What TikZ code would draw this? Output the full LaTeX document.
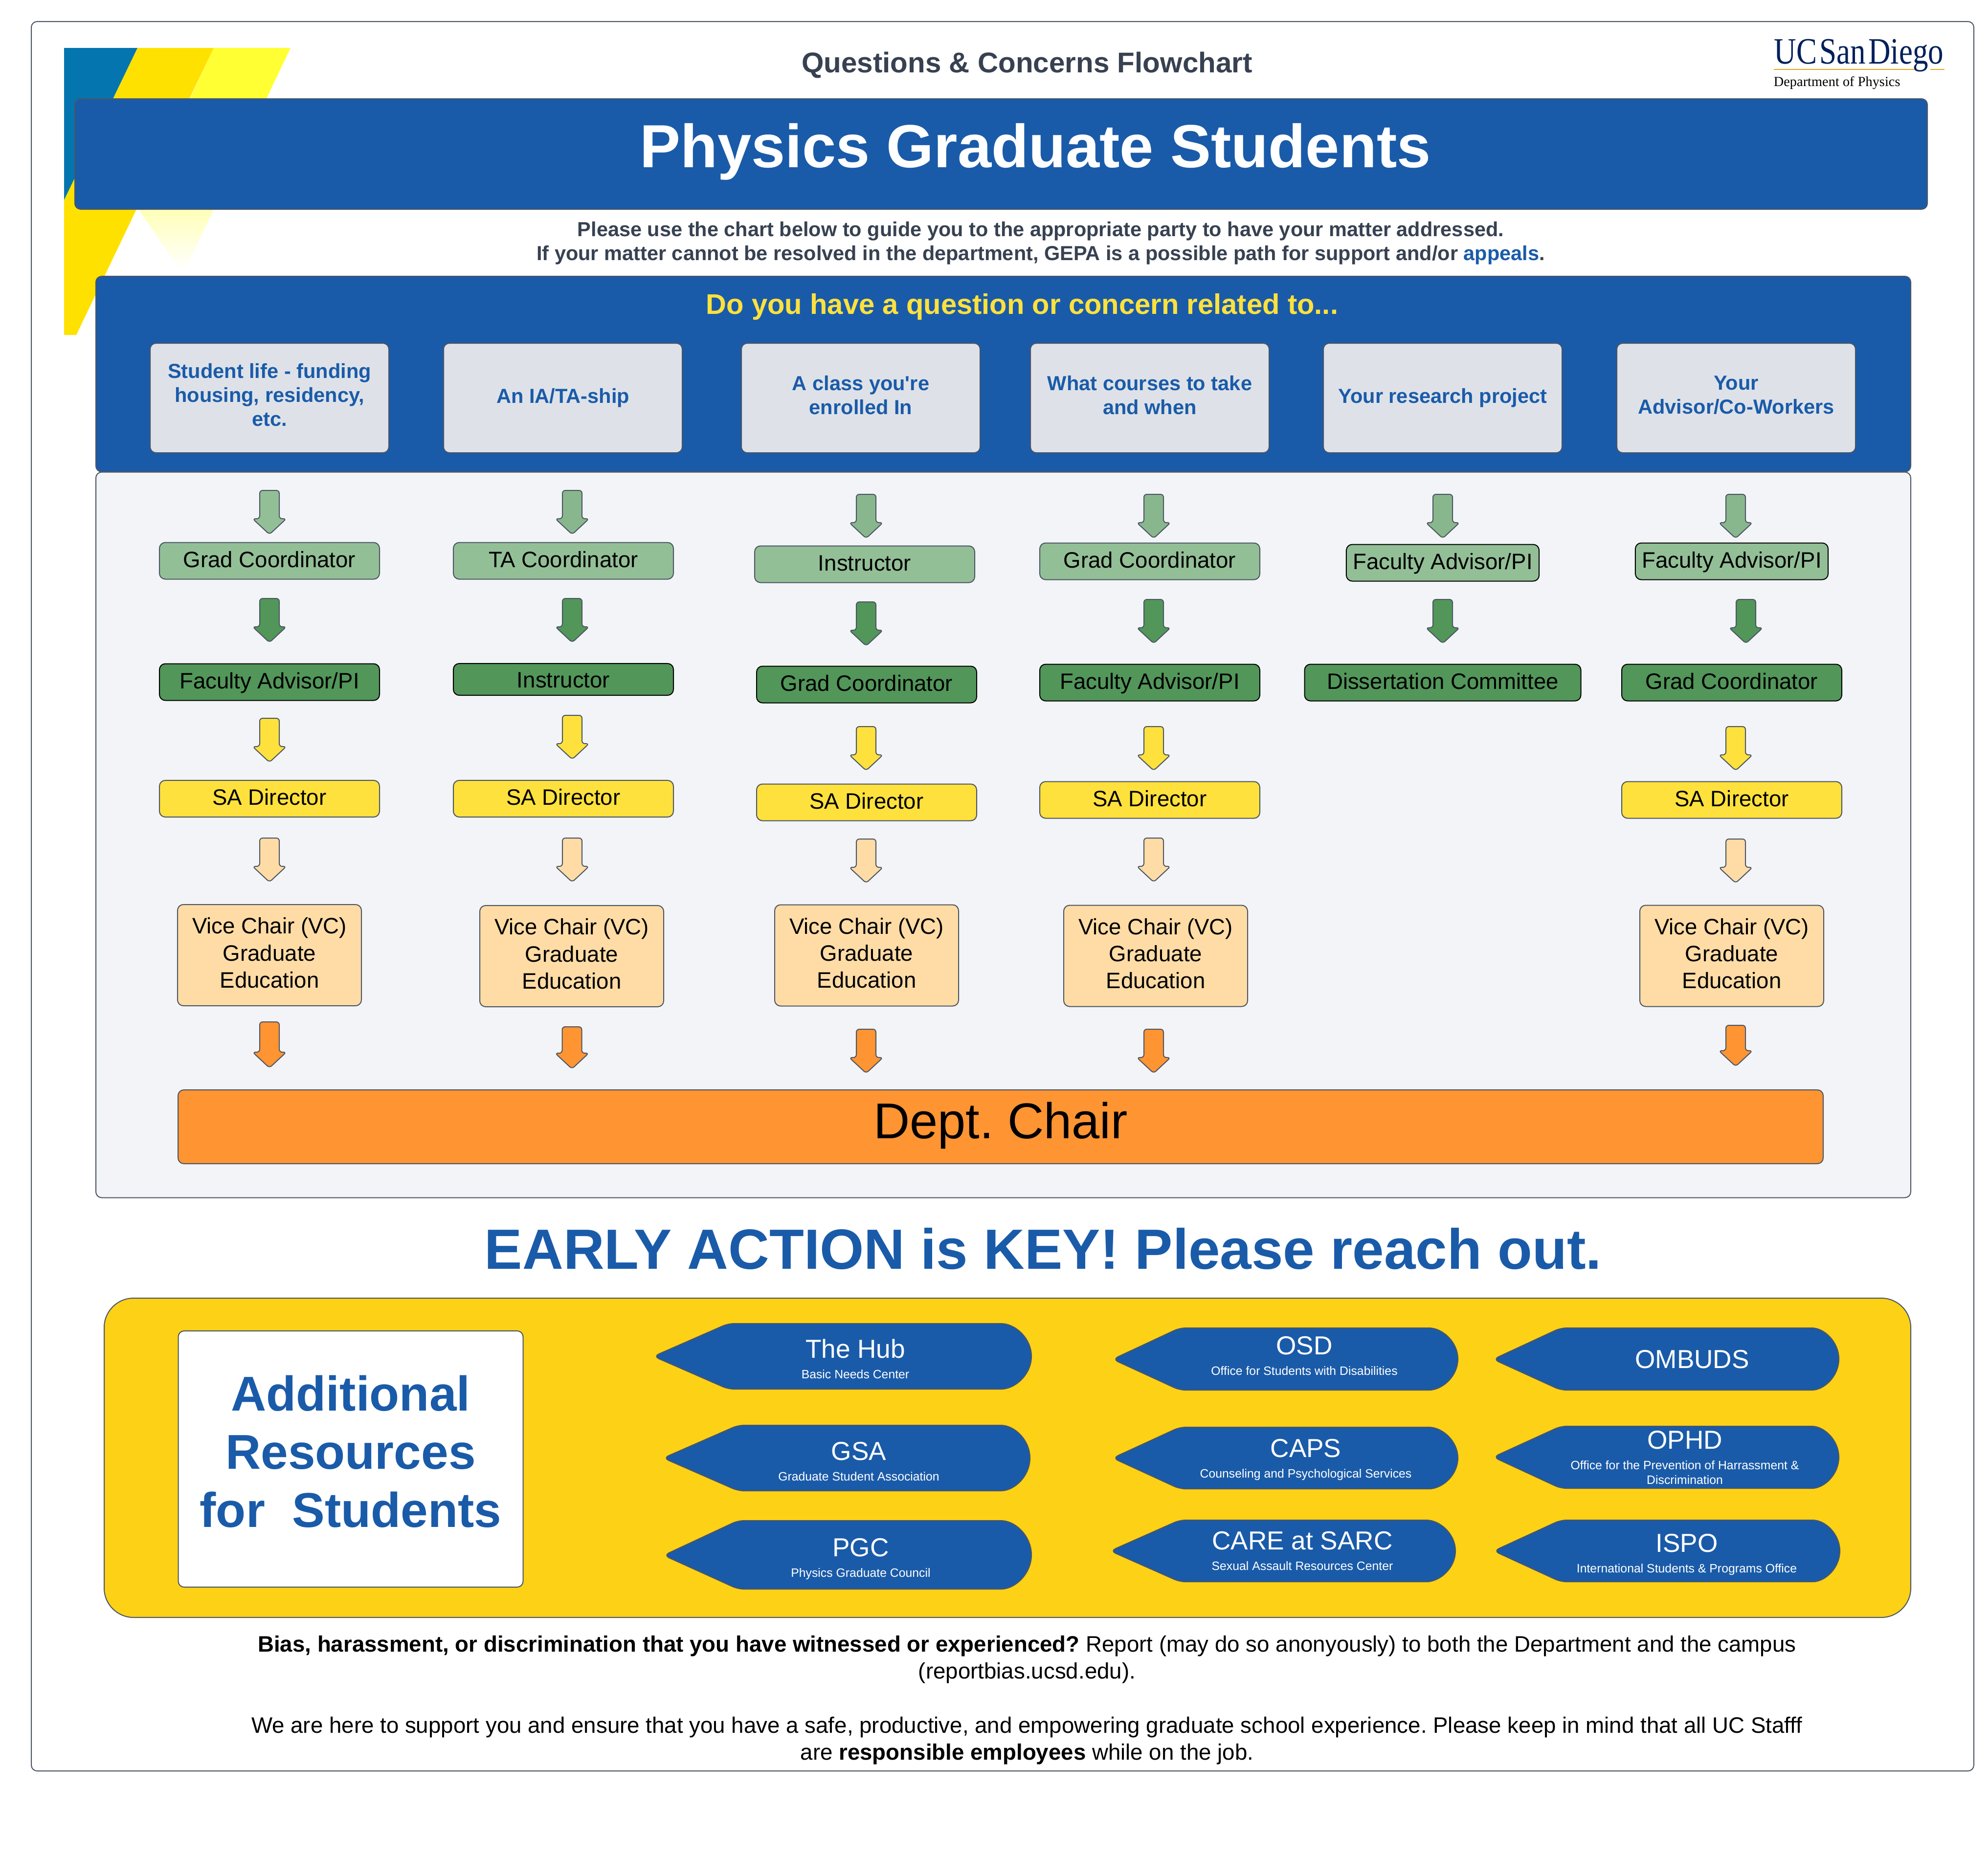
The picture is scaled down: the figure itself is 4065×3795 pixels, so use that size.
\documentclass[tikz,border=0pt]{standalone}
\usepackage{fontspec}
\setmainfont{Liberation Sans}
\newfontfamily\logofont{Liberation Serif}
\usetikzlibrary{
  shapes.arrows,
  positioning
}
\definecolor{ucblue}{HTML}{1A5BA9}
\definecolor{framegray}{HTML}{4B5563}
\definecolor{inkgray}{HTML}{374151}
\definecolor{panelgray}{HTML}{F2F4F7}
\definecolor{askgray}{HTML}{DEE2E8}
\definecolor{softgreen}{HTML}{93BF97}
\definecolor{dimgreen}{HTML}{89B78D}
\definecolor{deepgreen}{HTML}{52965A}
\definecolor{softyellow}{HTML}{FFE13D}
\definecolor{peach}{HTML}{FFDCA6}
\definecolor{chairorange}{HTML}{FF9433}
\definecolor{goldpanel}{HTML}{FDD116}
\definecolor{bandblue}{HTML}{0575AF}
\definecolor{bandyellow}{HTML}{FFE100}
\definecolor{bandlight}{HTML}{FFFF33}
\definecolor{logonavy}{HTML}{00205B}
\definecolor{logogold}{HTML}{E8A520}
\newcommand{\tagsub}{\fontsize{6.2}{7.5}\selectfont}
\frenchspacing

\begin{document}
\begin{tikzpicture}[
    x=0.25pt, y=-0.25pt, % one unit is one pixel of the page, y runs down
    every node/.style={align=center},
    framebox/.style={draw=framegray, line width=0.5pt, rounded corners=3pt},
    chainbox/.style={
      framebox, minimum width=112.5pt, minimum height=18.75pt,
      font=\fontsize{11.4}{13.8}\selectfont
    },
    oneline/.style={chainbox, text height=8.3pt, text depth=1.8pt},
    softbox/.style={oneline, fill=softgreen},
    deepbox/.style={oneline, fill=deepgreen, draw=black},
    sabox/.style={oneline, fill=softyellow},
    vicebox/.style={
      chainbox, fill=peach, minimum width=94pt, minimum height=51.75pt,
      text depth=2.5pt
    },
    askbox/.style={
      framebox, fill=askgray, text=ucblue,
      minimum width=122pt, minimum height=56pt,
      font=\fontsize{10.4}{12.3}\selectfont\bfseries
    },
    asklines/.style={askbox, text depth=3.2pt},
    blockarrow/.style={
      single arrow, shape border rotate=270, draw=framegray, line width=0.5pt,
      inner xsep=4.75pt, inner ysep=0pt, outer sep=0pt, anchor=tail,
      minimum height=22.5pt, minimum width=16.75pt,
      single arrow head extend=3.6pt, single arrow tip angle=94,
      rounded corners=1.5pt
    },
    softarrow/.style={blockarrow, fill=softgreen},
    deeparrow/.style={blockarrow, fill=deepgreen},
    yellowarrow/.style={blockarrow, fill=softyellow},
    peacharrow/.style={blockarrow, fill=peach},
    orangearrow/.style={blockarrow, fill=chairorange},
    tagbox/.style={
      draw=framegray, line width=0.5pt, fill=ucblue, rounded corners=3pt
    },
    taglabel/.style={text=white, font=\fontsize{13.3}{16}\selectfont},
  ]
  \useasboundingbox (0,0) rectangle (4065,3795);

  % --- Page frame ---
  \draw[framebox, fill=white] (64,44) rectangle (4036,3622);

  % --- Corner bands ---
  \fill[bandlight] (437,98) -- (594,98) -- (437,428) -- (283,428) -- cycle;
  \shade[top color=bandlight!35!white, bottom color=white]
    (283,428) -- (437,428) -- (378,552) -- (368,552) -- cycle;
  \fill[bandyellow] (281,98) -- (437,98) -- (156,685) -- (131,685) -- (131,409) -- cycle;
  \fill[bandblue] (131,98) -- (281,98) -- (131,409) -- cycle;

  % --- Title ---
  \node[font=\fontsize{14.6}{18}\selectfont\bfseries, text=inkgray] (heading) at (2100,133)
    {Questions \& Concerns Flowchart};
  \node[framebox, fill=ucblue, minimum width=947pt, minimum height=56.5pt] (titlebar) at (2047,315) {};
  \node[text=white, font=\fontsize{31.1}{37}\selectfont\bfseries] (title) at (2117,310)
    {Physics Graduate Students};

  % --- Logo ---
  \node[anchor=base west, inner sep=0pt, text=logonavy, font=\logofont\fontsize{19}{22}\selectfont]
    (logo) at (3627,130) {\scalebox{0.83}[1]{UC\hspace{0.08em}San\hspace{0.08em}Diego}};
  \draw[logogold, line width=0.7pt] (3627,142) -- (3915,142);
  \draw[logogold, line width=0.7pt] (3947,142) -- (3976,142);
  \node[anchor=base west, inner sep=0pt, font=\logofont\fontsize{7.1}{8}\selectfont]
    (logodept) at (3626,176) {Department of Physics};

  % --- Guidance ---
  \node[text=inkgray, font=\fontsize{10.38}{12.25}\selectfont\bfseries] (guidance) at (2128,497)
    {Please use the chart below to guide you to the appropriate party to have your matter addressed.\\
     If your matter cannot be resolved in the department, GEPA is a possible path for support and/or \textcolor{ucblue}{appeals}.};

  % --- Question panel ---
  \node[framebox, fill=ucblue, minimum width=927.75pt, minimum height=100pt] (askpanel) at (2051.5,765) {};
  \node[text=softyellow, font=\fontsize{14.5}{17}\selectfont\bfseries] (asktitle) at (2090,627)
    {Do you have a question or concern related to...};
  \node[asklines] (ask1) at (551,814) {Student life - funding\\housing, residency,\\etc.};
  \node[askbox] (ask2) at (1151,814) {An IA/TA-ship};
  \node[asklines] (ask3) at (1760,814) {A class you\textquotesingle re\\enrolled In};
  \node[asklines] (ask4) at (2351,814) {What courses to take\\and when};
  \node[askbox] (ask5) at (2950,814) {Your research project};
  \node[asklines] (ask6) at (3550,814) {Your\\Advisor/Co-Workers};

  % --- Ladder panel ---
  \node[framebox, fill=panelgray, minimum width=927.75pt, minimum height=371pt] (ladder) at (2051.5,1707.5) {};

  % Column 1
  \node[softarrow] (a11) at (551,1003) {};
  \node[softbox] (grad1) at (551,1147) {Grad Coordinator};
  \node[deeparrow] (a12) at (551,1224) {};
  \node[deepbox] (faculty1) at (551,1395) {Faculty Advisor/PI};
  \node[yellowarrow] (a13) at (551,1469) {};
  \node[sabox] (sa1) at (551,1633.5) {SA Director};
  \node[peacharrow] (a14) at (551,1714) {};
  \node[vicebox] (vice1) at (551,1953.5) {Vice Chair (VC)\\Graduate\\Education};
  \node[orangearrow, minimum height=23.5pt] (a15) at (551,2090) {};

  % Column 2
  \node[softarrow, fill=dimgreen] (a21) at (1170,1003) {};
  \node[softbox] (ta2) at (1152,1147) {TA Coordinator};
  \node[deeparrow] (a22) at (1170,1224) {};
  \node[deepbox, minimum height=16.25pt, text depth=0pt] (instructor2) at (1152,1389.5) {Instructor};
  \node[yellowarrow] (a23) at (1170,1463) {};
  \node[sabox] (sa2) at (1152,1633.5) {SA Director};
  \node[peacharrow] (a24) at (1170,1714) {};
  \node[vicebox] (vice2) at (1169,1955.5) {Vice Chair (VC)\\Graduate\\Education};
  \node[orangearrow, minimum height=21.5pt] (a25) at (1169.5,2100) {};

  % Column 3
  \node[softarrow, fill=dimgreen] (a31) at (1771,1011) {};
  \node[softbox] (instructor3) at (1768,1154) {Instructor};
  \node[deeparrow] (a32) at (1771,1231) {};
  \node[deepbox] (grad3) at (1772,1400) {Grad Coordinator};
  \node[yellowarrow] (a33) at (1771,1486) {};
  \node[sabox] (sa3) at (1772,1641) {SA Director};
  \node[peacharrow] (a34) at (1771,1716) {};
  \node[vicebox] (vice3) at (1772,1954) {Vice Chair (VC)\\Graduate\\Education};
  \node[orangearrow] (a35) at (1771,2105) {};

  % Column 4
  \node[softarrow, fill=dimgreen] (a41) at (2359,1011) {};
  \node[softbox] (grad4) at (2351,1148) {Grad Coordinator};
  \node[deeparrow] (a42) at (2359,1226) {};
  \node[deepbox] (faculty4) at (2351,1396) {Faculty Advisor/PI};
  \node[yellowarrow] (a43) at (2359,1486) {};
  \node[sabox] (sa4) at (2351,1636) {SA Director};
  \node[peacharrow] (a44) at (2359,1714) {};
  \node[vicebox] (vice4) at (2363,1955) {Vice Chair (VC)\\Graduate\\Education};
  \node[orangearrow] (a45) at (2359,2105) {};

  % Column 5
  \node[softarrow, fill=dimgreen] (a51) at (2950,1011) {};
  \node[softbox, draw=black, minimum width=98.5pt] (faculty5) at (2950,1151) {Faculty Advisor/PI};
  \node[deeparrow] (a52) at (2950,1226) {};
  \node[deepbox, minimum width=141.25pt] (committee5) at (2950,1396) {Dissertation Committee};

  % Column 6
  \node[softarrow, fill=dimgreen] (a61) at (3549,1011) {};
  \node[softbox, draw=black, minimum width=98.5pt] (faculty6) at (3541,1148) {Faculty Advisor/PI};
  \node[deeparrow] (a62) at (3570,1226) {};
  \node[deepbox] (grad6) at (3541,1396) {Grad Coordinator};
  \node[yellowarrow] (a63) at (3549,1486) {};
  \node[sabox] (sa6) at (3541,1636) {SA Director};
  \node[peacharrow] (a64) at (3549,1716) {};
  \node[vicebox] (vice6) at (3541,1955) {Vice Chair (VC)\\Graduate\\Education};
  \node[orangearrow, minimum height=21pt] (a65) at (3549,2097) {};

  \node[framebox, fill=chairorange, minimum width=841pt, minimum height=37.75pt, text depth=6.7pt,
    font=\fontsize{25.7}{30}\selectfont] (chair) at (2046,2304.5) {Dept. Chair};

  % --- Call to action ---
  \node[text=ucblue, font=\fontsize{29}{34}\selectfont\bfseries] (early) at (2133,2554)
    {EARLY ACTION is KEY! Please reach out.};

  % --- Resources panel ---
  \draw[framebox, fill=goldpanel, rounded corners=15pt] (213,2655) rectangle (3907,3308);
  \node[framebox, fill=white, text=ucblue, minimum width=176.25pt, minimum height=131pt, text depth=7.8pt,
    font=\fontsize{25}{29.8}\selectfont\bfseries] (resources) at (717,2984)
    {Additional\\Resources\\for\ \ Students};

  \draw[tagbox] (1336,2774) -- (1489,2707) -- (2035,2707)
    arc[start angle=-90, end angle=90, x radius=74, y radius=67] -- (1489,2841) -- cycle;
  \draw[tagbox] (1356,2982) -- (1509,2915) -- (2035,2915)
    arc[start angle=-90, end angle=90, x radius=71, y radius=67] -- (1509,3049) -- cycle;
  \draw[tagbox] (1357,3181) -- (1509,3110) -- (2035,3110)
    arc[start angle=-90, end angle=90, x radius=74, y radius=70] -- (1509,3250) -- cycle;
  \draw[tagbox] (2275,2780) -- (2412,2716) -- (2910,2716)
    arc[start angle=-90, end angle=90, x radius=71, y radius=63.5] -- (2412,2843) -- cycle;
  \draw[tagbox] (2275,2982) -- (2412,2919) -- (2910,2919)
    arc[start angle=-90, end angle=90, x radius=71, y radius=63] -- (2412,3045) -- cycle;
  \draw[tagbox] (2270,3172) -- (2412,3109) -- (2905,3109)
    arc[start angle=-90, end angle=90, x radius=71, y radius=63] -- (2412,3235) -- cycle;
  \draw[tagbox] (3053,2780) -- (3191,2716) -- (3693,2716)
    arc[start angle=-90, end angle=90, x radius=67, y radius=63.5] -- (3191,2843) -- cycle;
  \draw[tagbox] (3053,2980) -- (3191,2917) -- (3693,2917)
    arc[start angle=-90, end angle=90, x radius=67, y radius=63.5] -- (3191,3044) -- cycle;
  \draw[tagbox] (3054,3172) -- (3191,3109) -- (3695,3109)
    arc[start angle=-90, end angle=90, x radius=67, y radius=63] -- (3191,3235) -- cycle;

  \node[taglabel] (hub) at (1749,2779) {The Hub\\[-5.5pt]{\tagsub Basic Needs Center}};
  \node[taglabel] (gsa) at (1756,2989) {GSA\\[-5.5pt]{\tagsub Graduate Student Association}};
  \node[taglabel] (pgc) at (1760,3188) {PGC\\[-5.5pt]{\tagsub Physics Graduate Council}};
  \node[taglabel] (osd) at (2667,2773) {OSD\\[-5.5pt]{\tagsub Office for Students with Disabilities}};
  \node[taglabel] (caps) at (2670,2985) {CAPS\\[-5.5pt]{\tagsub Counseling and Psychological Services}};
  \node[taglabel] (care) at (2663,3172) {CARE at SARC\\[-5.5pt]{\tagsub Sexual Assault Resources Center}};
  \node[taglabel] (ombuds) at (3460,2780) {OMBUDS};
  \node[taglabel] (ophd) at (3445,2981) {OPHD\\[-5.5pt]{\tagsub Office for the Prevention of Harrassment \&}\\[-8.5pt]{\tagsub Discrimination}};
  \node[taglabel] (ispo) at (3449,3179) {ISPO\\[-5.5pt]{\tagsub International Students \& Programs Office}};

  % --- Footer ---
  \node[font=\fontsize{11.42}{13.8}\selectfont] (footer) at (2100,3477)
    {\textbf{Bias, harassment, or discrimination that you have witnessed or experienced?} Report (may do so anonyously) to both the Department and the campus\\
     (reportbias.ucsd.edu).\\[13.8pt]
     We are here to support you and ensure that you have a safe, productive, and empowering graduate school experience. Please keep in mind that all UC Stafff\\
     are \textbf{responsible employees} while on the job.};
\end{tikzpicture}
\end{document}
